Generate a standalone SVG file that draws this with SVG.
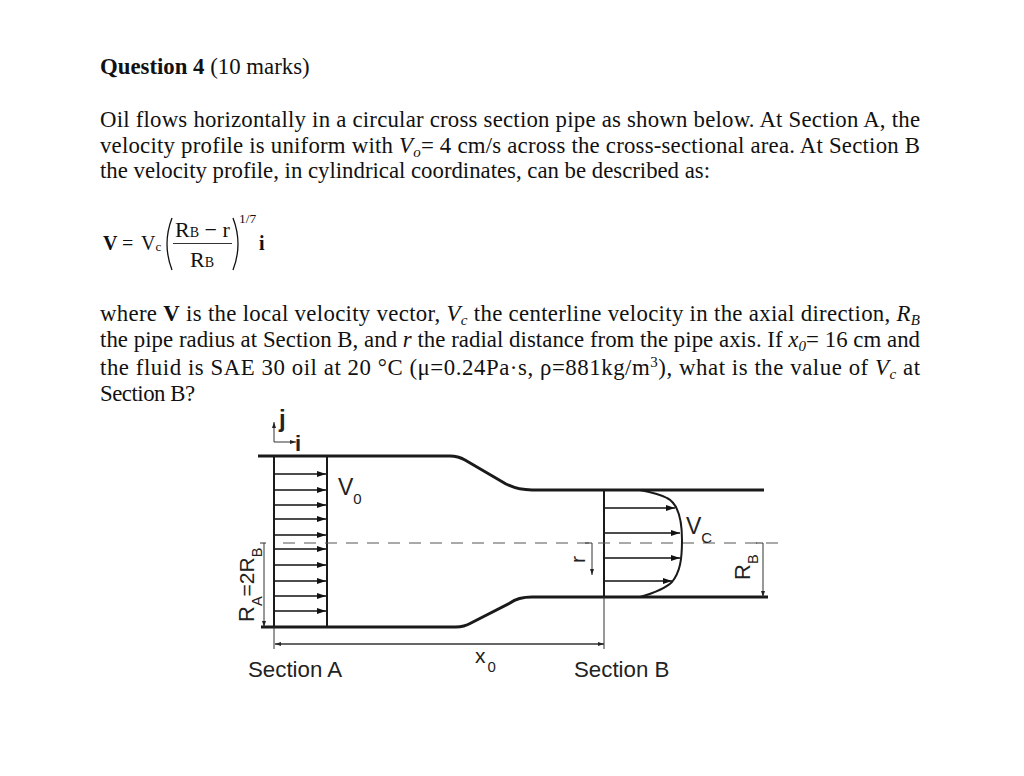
<svg xmlns="http://www.w3.org/2000/svg" width="1024" height="776" viewBox="0 0 1024 776">
<style>
.t{font-family:"Liberation Serif",serif;font-size:22.8px;fill:#111}
.m{font-family:"Liberation Serif",serif;fill:#111}
.s{font-family:"Liberation Sans",Arial,sans-serif;fill:#222}
.wall{fill:none;stroke:#1a1a1a;stroke-width:3}
.sec{fill:none;stroke:#1a1a1a;stroke-width:2}
.thin{fill:none;stroke:#333;stroke-width:1}
.par{fill:none;stroke:#111;stroke-width:1.3}
.arr{fill:none;stroke:#111;stroke-width:1.4;marker-end:url(#a)}
.dim{fill:none;stroke:#333;stroke-width:1;marker-end:url(#b)}
.dash{fill:none;stroke:#555;stroke-width:1;stroke-dasharray:12 9}
</style>
<defs>
<marker id="a" markerWidth="9" markerHeight="6" refX="9" refY="3" orient="auto" markerUnits="userSpaceOnUse"><path d="M0 0L9 3L0 6z" fill="#111"/></marker>
<marker id="b" markerWidth="6" markerHeight="4" refX="6" refY="2" orient="auto" markerUnits="userSpaceOnUse"><path d="M0 0L6 2L0 4z" fill="#222"/></marker>
</defs>
<rect width="1024" height="776" fill="#fff"/>
<g id="question-text">
<text class="t" x="100" y="74"><tspan font-weight="bold">Question 4 </tspan>(10 marks)</text>
<text class="t" x="100" y="126.5" textLength="820">Oil flows horizontally in a circular cross section pipe as shown below. At Section A, the</text>
<text class="t" x="100" y="152.5" textLength="820">velocity profile is uniform with <tspan font-style="italic">V</tspan><tspan font-style="italic" font-size="15" dy="4">o</tspan><tspan dy="-4">= 4 cm/s across the cross-sectional area. At Section B</tspan></text>
<text class="t" x="100" y="178" textLength="610">the velocity profile, in cylindrical coordinates, can be described as:</text>
<text class="t" x="100" y="321" textLength="820">where <tspan font-weight="bold">V</tspan> is the local velocity vector, <tspan font-style="italic">V</tspan><tspan font-style="italic" font-size="15" dy="4">c</tspan><tspan dy="-4"> the centerline velocity in the axial direction, </tspan><tspan font-style="italic">R</tspan><tspan font-style="italic" font-size="15" dy="4">B</tspan></text>
<text class="t" x="100" y="347" textLength="820">the pipe radius at Section B, and <tspan font-style="italic">r</tspan> the radial distance from the pipe axis. If <tspan font-style="italic">x</tspan><tspan font-style="italic" font-size="15" dy="4">0</tspan><tspan dy="-4">= 16 cm and</tspan></text>
<text class="t" x="100" y="375" textLength="820">the fluid is SAE 30 oil at 20 °C (μ=0.24Pa·s, ρ=881kg/m<tspan font-size="15" dy="-8">3</tspan><tspan dy="8">), what is the value of </tspan><tspan font-style="italic">V</tspan><tspan font-style="italic" font-size="15" dy="4">c</tspan><tspan dy="-4"> at</tspan></text>
<text class="t" x="100" y="401" textLength="95">Section B?</text>
</g>
<g id="equation">
<text class="m" x="103" y="250" font-size="20" font-weight="bold">V</text>
<text class="m" x="122" y="250" font-size="20">=</text>
<text class="m" x="141" y="250" font-size="20">V<tspan font-size="13" dy="1">c</tspan></text>
<path class="par" d="M172 218Q167 231 167 244Q167 257 172 270"/>
<path class="par" d="M233 218Q238 231 238 244Q238 257 233 270"/>
<path class="thin" d="M173 243.500H232"/>
<text class="m" x="175" y="237" font-size="22">R<tspan font-size="14">B</tspan> − r</text>
<text class="m" x="190" y="267" font-size="22">R<tspan font-size="14">B</tspan></text>
<text class="m" x="239" y="223" font-size="13.500">1/7</text>
<text class="m" x="259" y="250" font-size="20" font-weight="bold">i</text>
</g>
<g id="connectors">
<path class="dim" d="M274 442V422"/>
<path class="dim" d="M274 442H296"/>
<path class="wall" d="M258 456H450Q458 456 465 460L506 484Q518 490 532 490H764"/>
<path class="wall" d="M261 627H456Q464 627 471 623L510 603Q518 597 532 597H768"/>
<path class="sec" d="M274 456V627M327 456V627M604 490V597"/>
<path class="thin" d="M274 627V649M604 597V649"/>
<path class="dash" d="M283 543H785"/>
<path class="dim" d="M604 644H275"/>
<path class="dim" d="M275 644H604"/>
<path class="thin" d="M260 543H266"/>
<path class="dim" d="M264 543V627"/>
<path class="thin" d="M585 543H592"/>
<path class="dim" d="M592 543V575"/>
<path class="dim" d="M763 543V597"/>
<path class="thin" d="M756 543H763"/>
<path class="arr" d="M275 474H326"/><path class="arr" d="M275 490H326"/><path class="arr" d="M275 505H326"/><path class="arr" d="M275 519H326"/><path class="arr" d="M275 535H326"/><path class="arr" d="M275 549H326"/><path class="arr" d="M275 565H326"/><path class="arr" d="M275 581H326"/><path class="arr" d="M275 596H326"/><path class="arr" d="M275 611H326"/>
<path class="arr" d="M605 508H675"/><path class="arr" d="M605 533H680"/><path class="arr" d="M605 558H680"/><path class="arr" d="M605 581H672"/>
<path class="sec" d="M640 490Q660 494 667 498C677 503 682 518 682 540C682 560 680 572 672 582Q664 590 640 597"/>
</g>
<g id="labels">
<text class="s" x="279" y="427" font-size="24" font-weight="bold">j</text>
<text class="s" x="295" y="451" font-size="22" font-weight="bold">i</text>
<text class="s" x="338" y="495" font-size="23">V<tspan font-size="15" dy="9">0</tspan></text>
<text class="s" x="686" y="534" font-size="23">V<tspan font-size="15" dy="9">C</tspan></text>
<text class="s" transform="translate(254 622) rotate(-90)" font-size="22">R<tspan font-size="14.500" dy="8">A</tspan><tspan font-size="21" dy="-8">=2R</tspan><tspan font-size="14.500" dy="8">B</tspan></text>
<text class="s" transform="translate(585 563) rotate(-90)" font-size="21">r</text>
<text class="s" transform="translate(750 580) rotate(-90)" font-size="22">R<tspan font-size="14.500" dy="8">B</tspan></text>
<text class="s" x="248" y="677" font-size="22.300">Section A</text>
<text class="s" x="574" y="677" font-size="22.300">Section B</text>
<text class="s" x="475" y="663" font-size="21">x<tspan font-size="15" dx="2" dy="9">0</tspan></text>
</g>
</svg>
